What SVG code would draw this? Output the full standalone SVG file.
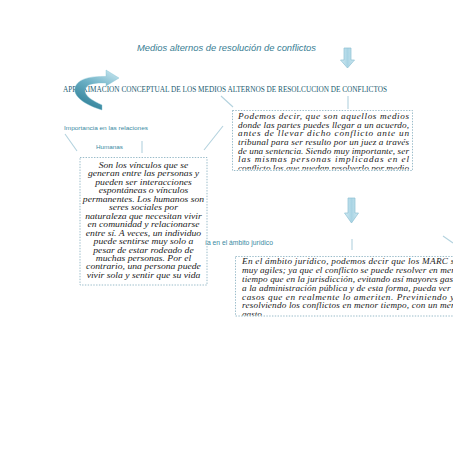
<svg xmlns="http://www.w3.org/2000/svg" width="453" height="453" viewBox="0 0 453 453">
<style>
.box{fill:#fff;stroke:#7fa9bb;stroke-width:0.8;stroke-dasharray:1.4 1.4}
.conn{stroke:#b3d2de;stroke-width:1.1;fill:none}
.body{font-family:"Liberation Serif",serif;font-style:italic;font-size:8.4px;fill:#222}
.lbl{font-family:"Liberation Sans",sans-serif;fill:#3a8aa2}
.arrowd{fill:url(#gd);stroke:#8cc0d3;stroke-width:0.7}
</style>
<defs>
<linearGradient id="gd" x1="0" y1="0" x2="1" y2="0">
<stop offset="0" stop-color="#d5ecf4"/><stop offset="0.5" stop-color="#a9d4e4"/><stop offset="1" stop-color="#cfe8f1"/>
</linearGradient>
<linearGradient id="gc" gradientUnits="userSpaceOnUse" x1="95" y1="108" x2="112" y2="72">
<stop offset="0" stop-color="#3a889f"/><stop offset="0.5" stop-color="#6aafc4"/><stop offset="1" stop-color="#bde0eb"/>
</linearGradient>
<clipPath id="c1"><rect x="232" y="110" width="181" height="59.5"/></clipPath>
<clipPath id="c2"><rect x="235" y="256" width="230" height="59.5"/></clipPath>
</defs>
<rect width="453" height="453" fill="#fff"/>

<g id="connectors">
<line class="conn" x1="221" y1="96" x2="233" y2="107"/>
<line class="conn" x1="348" y1="96" x2="348" y2="109"/>
<line class="conn" x1="65" y1="134" x2="77" y2="151"/>
<line class="conn" x1="142" y1="141" x2="142" y2="153"/>
<line class="conn" x1="204" y1="150" x2="223" y2="126"/>
<line class="conn" x1="352" y1="239" x2="352" y2="250"/>
<line class="conn" x1="443" y1="236" x2="453" y2="243"/>
</g>

<g id="title">
<text x="137" y="51" class="lbl" style="font-style:italic;font-size:8.8px;fill:#377d93" textLength="179" lengthAdjust="spacingAndGlyphs">Medios alternos de resolución de conflictos</text>
</g>

<g id="arrow-down-1">
<path class="arrowd" d="M344 48 H351 V60 H354.5 L347.5 68 L340.5 60 H344 Z"/>
</g>

<g id="heading">
<text x="63" y="91.5" style="font-family:'Liberation Serif',serif;font-size:7.3px;fill:#215b70" textLength="324" lengthAdjust="spacingAndGlyphs">APROXIMACION CONCEPTUAL DE LOS MEDIOS ALTERNOS DE RESOLCUCION DE CONFLICTOS</text>
</g>

<g id="curved-arrow">
<path d="M102 110 C86 105 73 97 75 88 C77 79 90 76 106 76.5 L106 70 L119 78 L106 86 L106 83 C93 82.5 86 84.5 85 89.5 C84 96 93 101 102 105 Z" fill="url(#gc)" stroke="#7fbfd2" stroke-width="0.4"/>
</g>

<g id="node-importancia">
<text x="64" y="130" class="lbl" style="font-size:6px" textLength="84" lengthAdjust="spacingAndGlyphs">Importancia en las relaciones</text>
<text x="96" y="149" class="lbl" style="font-size:6px" textLength="27" lengthAdjust="spacingAndGlyphs">Humanas</text>
</g>

<g id="node-definicion">
<rect class="box" x="232.5" y="110.5" width="180" height="60"/>
<g clip-path="url(#c1)">
<g class="body" transform="translate(238 0) scale(1.1 1) translate(-238 0)">
<text x="238" y="119" textLength="155.5" lengthAdjust="spacing">Podemos decir, que son aquellos medios</text>
<text x="238" y="127.7" textLength="155.5" lengthAdjust="spacing">donde las partes puedes llegar a un acuerdo,</text>
<text x="238" y="136.4" textLength="155.5" lengthAdjust="spacing">antes de llevar dicho conflicto ante un</text>
<text x="238" y="145.1" textLength="155.5" lengthAdjust="spacing">tribunal para ser resulto por un juez a través</text>
<text x="238" y="153.8" textLength="155.5" lengthAdjust="spacing">de una sentencia. Siendo muy importante, ser</text>
<text x="238" y="162.5" textLength="155.5" lengthAdjust="spacing">las mismas personas implicadas en el</text>
<text x="238" y="171.2" textLength="155.5" lengthAdjust="spacing">conflicto los que puedan resolverlo por medio</text>
</g>
</g>
</g>

<g id="node-vinculos">
<rect class="box" x="80" y="157.5" width="127" height="127.5"/>
<g class="body" text-anchor="middle" transform="translate(143.5 0) scale(1.15 1) translate(-143.5 0)">
<text x="143.5" y="168">Son los vínculos que se</text>
<text x="143.5" y="176.5">generan entre las personas y</text>
<text x="143.5" y="185">pueden ser interacciones</text>
<text x="143.5" y="193.4">espontáneas o vínculos</text>
<text x="143.5" y="201.9">permanentes. Los humanos son</text>
<text x="143.5" y="210.3">seres sociales por</text>
<text x="143.5" y="218.8">naturaleza que necesitan vivir</text>
<text x="143.5" y="227.2">en comunidad y relacionarse</text>
<text x="143.5" y="235.7">entre sí. A veces, un individuo</text>
<text x="143.5" y="244.1">puede sentirse muy solo a</text>
<text x="143.5" y="252.6">pesar de estar rodeado de</text>
<text x="143.5" y="261">muchas personas. Por el</text>
<text x="143.5" y="269.5">contrario, una persona puede</text>
<text x="143.5" y="278">vivir sola y sentir que su vida</text>
</g>
</g>

<g id="arrow-down-2">
<path class="arrowd" d="M348 198 H355 V213 H358.5 L351.5 223 L344.5 213 H348 Z"/>
</g>

<g id="node-juridico-label">
<text x="205" y="244.5" class="lbl" style="font-size:6.6px" textLength="68" lengthAdjust="spacingAndGlyphs">ía en el ámbito jurídico</text>
</g>

<g id="node-juridico">
<rect class="box" x="235.5" y="256.5" width="230" height="59.5"/>
<g clip-path="url(#c2)">
<g class="body" transform="translate(242 0) scale(1.1 1) translate(-242 0)">
<text x="242" y="264.5" textLength="202" lengthAdjust="spacing">En el ámbito jurídico, podemos decir que los MARC son</text>
<text x="242" y="273.3" textLength="202" lengthAdjust="spacing">muy agiles; ya que el conflicto se puede resolver en menor</text>
<text x="242" y="282.1" textLength="202" lengthAdjust="spacing">tiempo que en la jurisdicción, evitando así mayores gastos</text>
<text x="242" y="290.9" textLength="202" lengthAdjust="spacing">a la administración pública y de esta forma, pueda ver los</text>
<text x="242" y="299.7" textLength="193" lengthAdjust="spacing">casos que en realmente lo ameriten. Previniendo y</text>
<text x="242" y="308.5" textLength="202" lengthAdjust="spacing">resolviendo los conflictos en menor tiempo, con un menor</text>
<text x="242" y="317.3">gasto.</text>
</g>
</g>
</g>
</svg>
